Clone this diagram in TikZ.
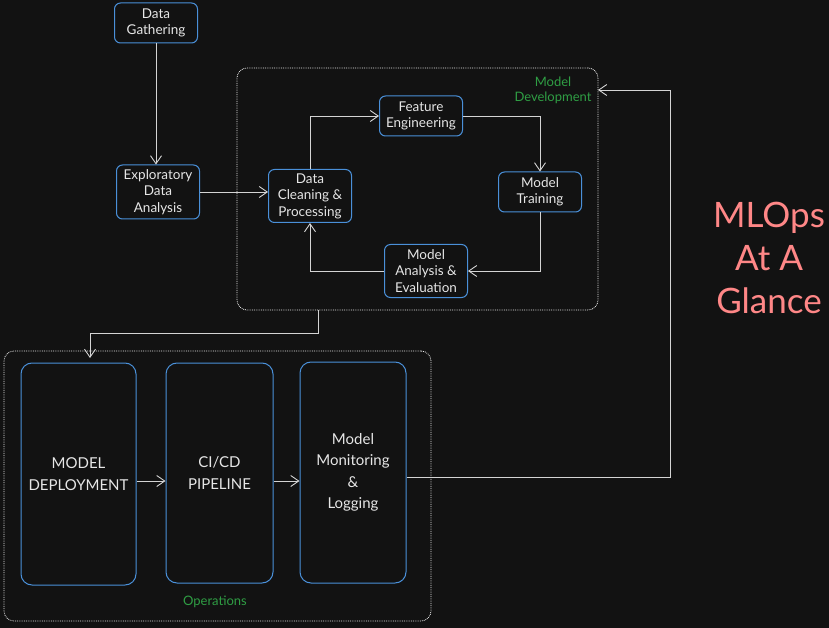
\documentclass[tikz,border=0pt]{standalone}
\usepackage{fontspec}
\setmainfont{Lato}
\usetikzlibrary{arrows.meta}
\definecolor{bg}{HTML}{121212}
\definecolor{boxblue}{HTML}{4A90D9}
\definecolor{ink}{HTML}{E6E6E6}
\definecolor{wire}{HTML}{D4D4D4}
\definecolor{grn}{HTML}{2F9E44}
\definecolor{salmon}{HTML}{FF8787}
\tikzset{
  smallbox/.style={draw=boxblue, line width=1pt, rounded corners=6pt, fill=bg,
    text=ink, align=center, inner sep=0pt, minimum width=83pt,
    font=\fontsize{13.5}{16.5}\selectfont},
  bigbox/.style={draw=boxblue, line width=1pt, rounded corners=11pt, fill=bg,
    text=ink, align=center, inner sep=0pt,
    font=\fontsize{15}{21.5}\selectfont},
  group/.style={draw=ink!80, densely dotted, line width=0.8pt, rounded corners=10pt},
  wirearrow/.style={draw=wire, line width=0.9pt, -{Straight Barb[length=8pt,width=11pt]}},
  grouplabel/.style={text=grn, align=center, font=\fontsize{13}{15}\selectfont},
}
\begin{document}
\begin{tikzpicture}[x=1pt,y=-1pt]
\fill[bg] (0,0) rectangle (829,628);
\useasboundingbox (0,0) rectangle (829,628);

% group boxes
\node[group, minimum width=361pt, minimum height=242pt, inner sep=0pt] (devbox) at (417.5,189) {};
\node[group, minimum width=427pt, minimum height=270pt, inner sep=0pt] (opsbox) at (217.5,486) {};
\node[grouplabel] (devlabel) at (553,90) {Model\\Development};
\node[grouplabel] (opslabel) at (215,602) {Operations};

% small boxes
\node[smallbox, minimum height=40pt] (dg) at (156,23) {Data\\Gathering};
\node[smallbox, minimum height=54pt] (eda) at (158,192) {Exploratory\\Data\\Analysis};
\node[smallbox, minimum height=53pt] (dc) at (310,196) {Data\\Cleaning \&\\Processing};
\node[smallbox, minimum height=40pt] (fe) at (421,116) {Feature\\Engineering};
\node[smallbox, minimum height=40pt] (mt) at (540,192) {Model\\Training};
\node[smallbox, minimum height=53pt] (ma) at (426,271) {Model\\Analysis \&\\Evaluation};

% big boxes
\node[bigbox, minimum width=115pt, minimum height=222pt] (md) at (78.5,474) {MODEL\\DEPLOYMENT};
\node[bigbox, minimum width=107pt, minimum height=220pt] (cicd) at (219.5,473) {CI/CD\\PIPELINE};
\node[bigbox, minimum width=106pt, minimum height=221pt] (mm) at (353,472.5) {Model\\Monitoring\\\&\\Logging};

% title
\node[text=salmon, align=center, font=\fontsize{35}{43}\selectfont] (title) at (769,258) {MLOps\\At A\\Glance};

% connector coordinates
\coordinate (c1) at (318,310);
\coordinate (c2) at (90,358);
\coordinate (c4) at (670,90);
\coordinate (c3) at (598,90);
\coordinate (r1) at (0,481);
\coordinate (r2) at (0,477);

% connectors
\draw[wirearrow] (dg.south) -- (dg.south |- eda.north);
\draw[wirearrow] (eda.east) -- (eda.east -| dc.west);
\draw[wirearrow] (dc.north) |- (fe.west);
\draw[wirearrow] (fe.east) -| (mt.north);
\draw[wirearrow] (mt.south) |- (ma.east);
\draw[wirearrow] (ma.west) -| (dc.south);
\draw[wirearrow] (c1) -- ++(0,23) -| (c2);
\draw[wirearrow] (md.east |- r1) -- (cicd.west |- r1);
\draw[wirearrow] (cicd.east |- r1) -- (mm.west |- r1);
\draw[wirearrow] (mm.east |- r2) -| (c4) -- (c3);
\end{tikzpicture}
\end{document}
